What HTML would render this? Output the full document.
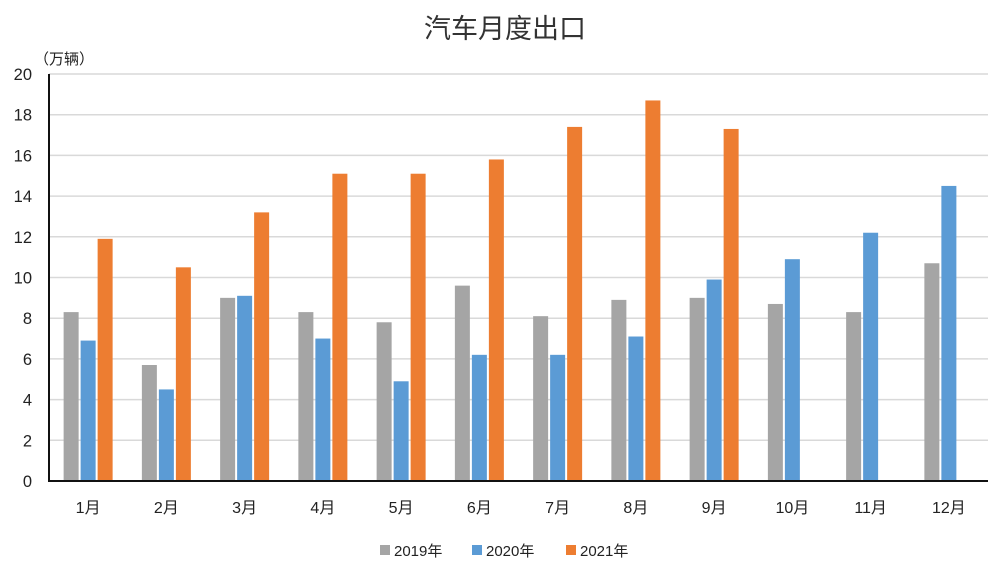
<!DOCTYPE html>
<html><head><meta charset="utf-8">
<style>
html,body{margin:0;padding:0;background:#fff;}
svg text{font-family:"Liberation Sans","Noto Sans CJK SC",sans-serif;fill:#222;}
</style></head>
<body>
<svg id="chart" width="1000" height="573" viewBox="0 0 1000 573" xmlns="http://www.w3.org/2000/svg">
<rect width="1000" height="573" fill="#fff"/>
<text x="505" y="38" text-anchor="middle" font-size="27" style="fill:#333">汽车月度出口</text>
<text x="34" y="64" font-size="15">（万辆）</text>
<g id="grid"></g><g id="bars"></g><g id="axes"></g><g id="labels"></g>
<g id="legend"></g>
</svg>
<script>
const categories=["1月","2月","3月","4月","5月","6月","7月","8月","9月","10月","11月","12月"];
const s2019=[8.3,5.7,9.0,8.3,7.8,9.6,8.1,8.9,9.0,8.7,8.3,10.7];
const s2020=[6.9,4.5,9.1,7.0,4.9,6.2,6.2,7.1,9.9,10.9,12.2,14.5];
const s2021=[11.9,10.5,13.2,15.1,15.1,15.8,17.4,18.7,17.3];
const yTicks=[0,2,4,6,8,10,12,14,16,18,20];
const seriesNames=["2019年","2020年","2021年"];
const colors=["#a5a5a5","#5b9bd5","#ed7d31"];
const NS="http://www.w3.org/2000/svg";
const x0=49,x1=988,yb=481,yt=74;
const cw=(x1-x0)/categories.length;
const y=v=>yb-(v/20)*(yb-yt);
function mk(tag,attrs,parent){const e=document.createElementNS(NS,tag);for(const k in attrs)e.setAttribute(k,attrs[k]);parent.appendChild(e);return e;}
const grid=document.getElementById('grid'),bars=document.getElementById('bars'),labels=document.getElementById('labels'),legend=document.getElementById('legend'),axes=document.getElementById('axes');
yTicks.forEach(t=>{
  const l=mk('line',{x1:x0,x2:x1,y1:y(t),y2:y(t),stroke:'#d9d9d9','stroke-width':1.5},grid);
  
  
  const tx=mk('text',{x:32,y:y(t)+6,'text-anchor':'end','font-size':16.5},labels);
  tx.textContent=t;
  
  
});
const all=[s2019,s2020,s2021];
const bw=15,gap=2;
categories.forEach((c,i)=>{
  const cx=x0+cw*(i+0.5);
  const start=cx-(3*bw+2*gap)/2;
  all.forEach((s,j)=>{
    if(s[i]===undefined)return;
    const r=mk('rect',{x:start+j*(bw+gap),y:y(s[i]),width:bw,height:yb-y(s[i]),fill:colors[j]},bars);
    
    
  });
  const t=mk('text',{x:cx,y:513,'text-anchor':'middle','font-size':16},labels);
  t.textContent=c;
  
  
});
const ya=mk('line',{x1:x0,x2:x0,y1:yt,y2:yb,stroke:'#111','stroke-width':2},axes);


const xa=mk('line',{x1:x0-1,x2:x1,y1:yb,y2:yb,stroke:'#111','stroke-width':2},axes);


const lx=[380,472,566];
seriesNames.forEach((n,j)=>{
  const g=mk('g',{},legend);
  
  
  mk('rect',{x:lx[j],y:545,width:10,height:10,fill:colors[j]},g);
  const t=mk('text',{x:lx[j]+14,y:556,'font-size':15},g);
  t.textContent=n;
});
</script>
</body></html>
